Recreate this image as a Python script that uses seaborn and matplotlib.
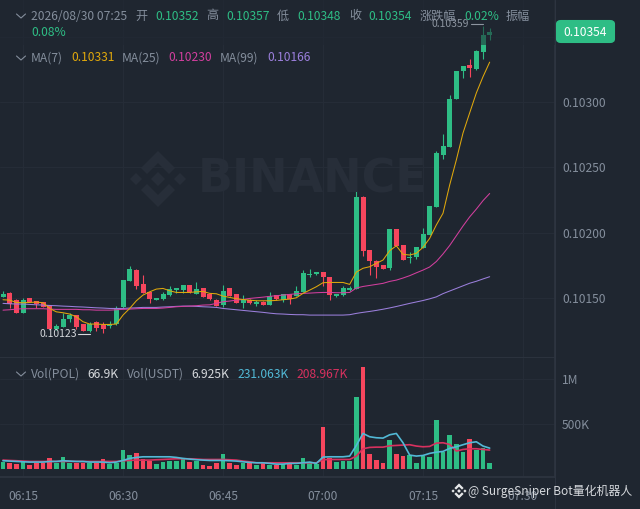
import numpy as np
import pandas as pd
import matplotlib
matplotlib.use("Agg")
import matplotlib.pyplot as plt
from matplotlib.patches import FancyBboxPatch, Polygon
import seaborn as sns

# ---------- data (prices in units of 1e-5, volumes in thousands) ----------
minutes = list(range(-3, 71))
opens = [10150.6,10153.7,10148.0,10138.3,10149.3,10147.3,10146.2,10144.0,10125.5,10127.3,10133.4,10136.2,10129.3,10124.2,10131.1,10128.5,10128.0,10129.3,10142.4,10162.7,10171.4,10160.6,10154.2,10148.0,10148.5,10151.6,10156.0,10155.7,10159.6,10152.9,10157.3,10152.4,10148.3,
 10144.2,10157.5,10152.4,10145.5,10148.3,10145.0,10146.8,10144.4,10152.1,10148.0,10152.4,10151.1,10154.4,10167.5,10167.8,10169.3,10165.5,10150.9,10151.6,10155.7,
 10156.5,10227.5,10186.5,10178.3,10175.2,10172.7,10202.7,10190.4,10180.2,10181.4,10188.1,10198.1,10219.8,10259.8,10266.0,10302.5,10324.5,10328.8,10325.5,10339.0,10352.0]
closes = [10152.7,10145.0,10138.3,10148.0,10146.8,10144.7,10142.7,10125.7,10128.0,10133.4,10136.2,10127.0,10124.4,10129.8,10126.5,10125.5,10129.3,10142.1,10163.4,10171.6,10158.8,10153.4,10148.5,10149.3,10152.4,10156.2,10157.3,10159.3,10153.9,10156.5,10150.6,10148.5,10143.4,
 10155.2,10151.4,10145.7,10148.0,10145.5,10146.5,10144.4,10151.1,10148.5,10152.4,10149.1,10155.2,10168.5,10168.3,10169.3,10165.7,10151.9,10152.4,10157.5,10157.5,
 10227.5,10186.0,10178.0,10173.7,10172.0,10202.7,10189.6,10178.8,10181.4,10188.8,10198.8,10220.4,10261.2,10266.8,10302.7,10324.2,10328.1,10326.3,10339.8,10351.9,10354.0]
highs = [10154.7,10154.0,10148.5,10149.8,10149.8,10147.5,10146.5,10144.5,10129.6,10137.8,10137.8,10136.5,10129.5,10131.4,10131.9,10131.4,10131.9,10143.7,10163.6,10174.2,10171.6,10167.0,10154.4,10149.8,10154.4,10158.8,10157.5,10159.5,10159.8,10161.9,10157.5,10152.6,10148.5,
 10160.0,10157.7,10152.6,10151.9,10148.5,10148.0,10147.0,10153.9,10152.3,10152.6,10152.6,10158.8,10171.1,10171.9,10169.5,10169.5,10165.7,10152.6,10158.5,10158.8,
 10232.7,10227.7,10186.7,10178.5,10175.4,10203.0,10203.0,10190.6,10185.0,10189.0,10203.5,10220.6,10262.7,10275.8,10305.8,10324.4,10328.3,10333.5,10340.0,10359.0,10357.0]
lows = [10150.1,10141.6,10138.0,10137.8,10146.5,10141.6,10142.5,10125.5,10125.3,10127.0,10131.4,10125.5,10124.2,10123.7,10123.9,10123.0,10126.2,10129.0,10142.0,10162.5,10156.2,10153.2,10146.0,10147.8,10148.2,10151.4,10153.7,10153.2,10153.7,10152.6,10150.3,10148.3,10143.2,
 10142.9,10151.2,10145.5,10142.1,10145.3,10143.4,10144.2,10144.0,10148.3,10146.2,10145.0,10150.9,10154.2,10166.0,10167.6,10159.0,10148.0,10150.7,10151.4,10155.0,
 10156.3,10182.2,10167.3,10165.2,10171.8,10171.2,10189.4,10178.6,10176.5,10180.0,10187.9,10197.9,10219.6,10256.5,10265.8,10302.3,10318.8,10319.8,10325.3,10333.5,10348.0]
ma7 = [10148.3,10148.0,10146.2,10146.0,10146.2,10146.5,10146.0,10141.6,10139.0,10138.3,10137.3,10135.2,10131.4,10129.6,10129.6,10129.3,10129.3,10129.6,10136.5,10141.6,10147.5,10151.9,10154.4,10156.5,10157.0,10155.2,10153.9,10153.9,10153.9,10154.4,10154.7,10153.2,10152.9,
 10151.1,10150.1,10149.1,10148.5,10148.0,10147.5,10147.5,10147.5,10147.8,10148.3,10148.8,10149.8,10153.2,10155.7,10158.3,10161.4,10161.6,10161.6,10161.6,10160.1,
 10169.6,10172.5,10173.7,10176.3,10178.8,10186.0,10189.8,10183.2,10182.7,10184.0,10188.6,10195.5,10205.8,10214.8,10236.5,10255.8,10276.5,10292.0,10307.3,10319.8,10331.0]
ma25 = [10140.3,10140.6,10141.1,10141.4,10141.4,10141.4,10141.4,10141.1,10140.9,10140.9,10140.9,10140.9,10140.6,10140.6,10140.3,10140.3,10140.3,10140.6,10140.9,10141.1,10141.4,10141.6,10141.6,10141.6,10141.9,10142.4,10142.9,10143.2,10143.4,10143.7,10144.2,10144.4,10145.5,
 10146.8,10147.3,10148.0,10148.5,10149.3,10149.8,10150.3,10150.9,10151.4,10151.9,10152.4,10152.9,10153.2,10153.4,10153.7,10153.9,10153.9,10153.7,10153.7,10153.9,
 10157.3,10158.5,10159.3,10160.1,10160.9,10162.4,10163.4,10165.0,10166.8,10169.0,10171.1,10173.5,10177.7,10183.5,10190.0,10197.5,10205.0,10212.0,10218.0,10224.5,10230.0]
ma99 = [10145.5,10145.2,10145.0,10145.0,10144.7,10144.4,10144.2,10143.9,10143.7,10143.4,10143.2,10142.9,10142.7,10142.4,10142.1,10141.9,10141.6,10141.6,10141.6,10141.9,10142.1,10142.4,10142.4,10142.4,10142.7,10142.9,10143.2,10143.4,10143.4,10143.2,10142.9,10142.7,10142.4,
 10141.6,10141.1,10140.6,10140.1,10139.6,10139.1,10138.6,10138.0,10137.5,10137.3,10137.0,10136.8,10136.8,10136.5,10136.5,10136.5,10136.5,10136.5,10136.5,10136.8,
 10137.8,10138.6,10139.3,10140.1,10141.0,10142.0,10143.1,10144.3,10145.5,10146.6,10147.7,10149.0,10150.5,10153.0,10155.0,10157.0,10159.0,10161.0,10162.5,10164.3,10166.0]
volume = [75,67,52,71,41,67,60,116,60,134,60,60,60,60,60,112,52,67,213,157,172,104,82,56,78,90,86,119,75,90,45,30,60,168,60,45,60,67,
 45,60,45,45,56,75,45,116,67,52,466,119,75,86,86,802,1141,168,101,60,317,168,138,153,67,138,127,545,183,377,276,183,328,209,231,67]
vol_ma_pol = [90,86,82,78,75,75,75,82,82,90,86,82,82,75,75,75,67,75,93,116,127,134,134,134,134,134,127,116,108,101,97,93,93,93,90,86,78,71,
 67,67,60,52,52,60,60,67,75,60,131,134,134,134,142,261,395,358,347,343,380,395,291,153,142,149,172,186,194,228,246,269,291,302,254,231]
vol_ma_usdt = [97,93,90,86,82,82,82,82,82,82,82,82,82,82,82,82,82,82,90,93,97,97,97,101,104,108,112,112,112,108,104,104,104,104,101,97,86,78,
 67,67,67,67,67,67,67,67,67,67,101,104,104,104,104,142,224,239,242,242,257,261,265,269,254,246,250,287,291,272,198,216,224,224,216,209]
price_ticks = [0.10150, 0.10200, 0.10250, 0.10300, 0.10350]
price_labels = ["0.10150", "0.10200", "0.10250", "0.10300", ""]
vol_ticks = [500, 1000]
vol_labels = ["500K", "1M"]
time_ticks = [0, 15, 30, 45, 60, 75]
time_labels = ["06:15", "06:30", "06:45", "07:00", "07:15", "07:30"]

# ---------- style ----------
BG = "#1f2630"; GRID = "#252c37"; EDGE = "#2d3440"; GREY = "#848e9c"
UP = "#2ebd85"; DOWN = "#f6465d"
C7 = "#e0a80c"; C25 = "#d23f9e"; C99 = "#9b7fdc"; CB = "#52b9d6"; CR = "#d8315f"
sns.set_theme(style="dark", rc={"axes.facecolor": BG, "figure.facecolor": BG, "axes.edgecolor": EDGE})
plt.rcParams["font.family"] = ["Noto Sans CJK SC", "DejaVu Sans"]

W, H = 640, 509
fig = plt.figure(figsize=(W / 100, H / 100), dpi=100)
def fx(x): return x / W
def fy(y): return 1 - y / H
def T(x, y, s, c=GREY, size=8.7, **kw):
    kw.setdefault("va", "center"); kw.setdefault("ha", "left")
    return fig.text(fx(x), fy(y), s, color=c, fontsize=size, zorder=20, **kw)

ax = fig.add_axes([0, fy(358), fx(555), 358 / H])
av = fig.add_axes([0, fy(477), fx(555), 119 / H], sharex=ax)

df = pd.DataFrame({"minute": minutes, "open": opens, "close": closes, "high": highs, "low": lows,
                   "ma7": ma7, "ma25": ma25, "ma99": ma99, "volume": volume,
                   "vma1": vol_ma_pol, "vma2": vol_ma_usdt})
for c in ["open", "close", "high", "low", "ma7", "ma25", "ma99"]:
    df[c] = df[c] / 1e5
df["dir"] = np.where(df["close"] >= df["open"], "up", "down")
colors = df["dir"].map({"up": UP, "down": DOWN})

# candles
ax.vlines(df["minute"], df["low"], df["high"], colors=colors, lw=0.8, zorder=3)
ax.bar(df["minute"], (df["close"] - df["open"]).abs().clip(lower=2e-6),
       bottom=df[["open", "close"]].min(axis=1), width=0.75, color=colors, lw=0, zorder=3)
# moving averages
for col, c in [("ma99", C99), ("ma25", C25), ("ma7", C7)]:
    sns.lineplot(data=df, x="minute", y=col, color=c, lw=0.75, ax=ax, errorbar=None, zorder=4)
ax.set_xlim(-3.45, 79.8)
ax.set_ylim(0.101035, 0.103788)
ax.axhspan(0.10344, 0.103788, color=BG, alpha=0.55, lw=0, zorder=5)
ax.set_yticks(price_ticks); ax.set_yticklabels(price_labels)
ax.yaxis.tick_right()
ax.tick_params(axis="y", length=0, colors=GREY, labelsize=8.7, pad=5)
ax.tick_params(axis="x", length=0, labelbottom=False)
ax.set_xlabel(""); ax.set_ylabel("")
ax.grid(True, color=GRID, lw=0.75); ax.set_axisbelow(True)
for s in ["top", "left"]:
    ax.spines[s].set_visible(False)
ax.spines["bottom"].set_color(EDGE); ax.spines["right"].set_color(EDGE)

# volume
sns.barplot(data=df, x="minute", y="volume", hue="dir", palette={"up": UP, "down": DOWN},
            native_scale=True, dodge=False, width=0.68, legend=False, ax=av, lw=0, zorder=3, saturation=1)
sns.lineplot(data=df, x="minute", y="vma2", color=CR, lw=1.2, ax=av, errorbar=None, zorder=4)
sns.lineplot(data=df, x="minute", y="vma1", color=CB, lw=1.2, ax=av, errorbar=None, zorder=5)
av.set_xlim(-3.45, 79.8)
av.set_ylim(-92, 1239)
av.set_yticks(vol_ticks); av.set_yticklabels(vol_labels)
av.yaxis.tick_right()
av.tick_params(axis="y", length=0, colors=GREY, labelsize=8.7, pad=5)
av.set_xticks(time_ticks); av.set_xticklabels(time_labels)
av.tick_params(axis="x", length=0, colors=GREY, labelsize=8.7, pad=9)
av.set_xlabel(""); av.set_ylabel("")
av.grid(True, color=GRID, lw=0.75); av.set_axisbelow(True)
for s in ["top", "left"]:
    av.spines[s].set_visible(False)
av.spines["bottom"].set_color(EDGE); av.spines["right"].set_color(EDGE)
fig.add_artist(plt.Line2D([fx(555), fx(555)], [0, 1], color=EDGE, lw=0.75))

# watermark
fig.text(fx(198), fy(180), "BINANCE", color="#272e39", fontsize=33, fontweight="bold", va="center",
         family="DejaVu Sans", zorder=1)
def logo(cx, cy, k, c, z):
    shapes = [[(-17,-11),(0,-28),(17,-11),(11,-5),(0,-16),(-11,-5)],
              [(-17,11),(0,28),(17,11),(11,5),(0,16),(-11,5)],
              [(-7,0),(0,-7),(7,0),(0,7)],
              [(-28,0),(-22,-6),(-16,0),(-22,6)],
              [(28,0),(22,-6),(16,0),(22,6)]]
    for pts in shapes:
        fig.add_artist(Polygon([(fx(cx + k * a), fy(cy + k * b)) for a, b in pts], closed=True,
                               transform=fig.transFigure, color=c, lw=0, zorder=z))
logo(158, 179, 1.0, "#272e39", 1)
logo(459, 491, 0.27, "#e6e8ea", 21)

# header texts
def chevron(y):
    fig.add_artist(plt.Line2D([fx(16.5), fx(21), fx(25.5)], [fy(y - 2), fy(y + 2), fy(y - 2)], color=GREY, lw=0.8))
chevron(16); chevron(58); chevron(374)
for x, s, c in [(31, "2026/08/30 07:25", GREY), (135, "开", GREY), (155, "0.10352", UP), (206, "高", GREY),
                (226, "0.10357", UP), (277, "低", GREY), (297, "0.10348", UP), (349, "收", GREY),
                (368, "0.10354", UP), (420, "涨跌幅", GREY), (464, "0.02%", UP), (506, "振幅", GREY)]:
    T(x, 16, s, c)
T(31, 32, "0.08%", UP)
for x, s, c in [(31, "MA(7)", GREY), (71, "0.10331", C7), (122, "MA(25)", GREY), (168, "0.10230", C25),
                (220, "MA(99)", GREY), (267, "0.10166", C99)]:
    T(x, 58, s, c)
for x, s, c in [(31, "Vol(POL)", GREY), (87, "66.9K", "#d5d8dc"), (127, "Vol(USDT)", GREY), (191, "6.925K", "#d5d8dc"),
                (237, "231.063K", CB), (296, "208.967K", CR)]:
    T(x, 374, s, c)

# high / low annotations
T(432, 24, "0.10359", "#8d95a0", 7.5)
fig.add_artist(plt.Line2D([fx(471), fx(483)], [fy(24), fy(24)], color="#8d95a0", lw=0.8))
T(39, 334, "0.10123", "#d5d8dc", 7.5)
fig.add_artist(plt.Line2D([fx(78), fx(90)], [fy(333.5), fy(333.5)], color="#d5d8dc", lw=0.8))

# price tag
fig.add_artist(FancyBboxPatch((fx(557), fy(42)), fx(57) - fx(0), fy(21) - fy(42),
                              boxstyle="round,pad=0,rounding_size=0.006", transform=fig.transFigure,
                              fc=UP, ec=UP, lw=1.5, zorder=19))
T(585.5, 32, "0.10354", "white", 8.7, ha="center")

# attribution
T(468, 491, "@ SurgeSniper Bot量化机器人", "#d5d8dc", 8.6)

fig.savefig("out.png", dpi=100, facecolor=BG)
